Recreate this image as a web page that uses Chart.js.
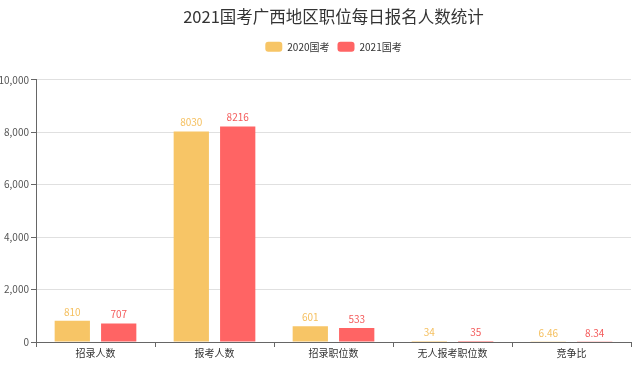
<!DOCTYPE html>
<html><head><meta charset="utf-8">
<script src="https://cdn.jsdelivr.net/npm/chart.js@4/dist/chart.umd.min.js"></script>
<style>html,body{margin:0;padding:0;background:#fff}#w{width:640px;height:368px}</style>
</head><body><div id="w"><canvas id="c" width="640" height="368"></canvas></div>
<script>
const categories = ['招录人数','报考人数','招录职位数','无人报考职位数','竞争比'];
const series2020 = [810, 8030, 601, 34, 6.46];
const series2021 = [707, 8216, 533, 35, 8.34];
const seriesNames = ['2020国考','2021国考'];
const yTicks = [0, 2000, 4000, 6000, 8000, 10000];

const FONT = '"Noto Sans CJK SC", "Noto Sans", sans-serif';
const labelPlugin = {
  id: 'vlabels',
  afterInit(chart) {
    const lg = chart.legend;
    if (lg) {
      const orig = lg.fit;
      lg.fit = function() { orig.call(this); this.height += 18; };
    }
  },
  afterDatasetsDraw(chart) {
    const ctx = chart.ctx;
    ctx.save();
    ctx.font = '10px ' + FONT;
    ctx.textAlign = 'center';
    ctx.textBaseline = 'bottom';
    chart.data.datasets.forEach((ds, i) => {
      const meta = chart.getDatasetMeta(i);
      ctx.fillStyle = ds.labelColor;
      meta.data.forEach((el, j) => {
        ctx.fillText(String(ds.data[j]), el.x, el.y - 4);
      });
    });
    ctx.restore();
  }
};

new Chart(document.getElementById('c'), {
  type: 'bar',
  data: {
    labels: categories,
    datasets: [
      {label: seriesNames[0], data: series2020, backgroundColor: '#f7c566', labelColor: '#f5c060'},
      {label: seriesNames[1], data: series2021, backgroundColor: '#ff6464', labelColor: '#f45b5b'}
    ]
  },
  options: {
    responsive: false,
    animation: false,
    devicePixelRatio: 1,
    datasets: {bar: {categoryPercentage: 0.78, barPercentage: 0.76}},
    layout: {padding: {left: 0, right: 9, top: 4, bottom: 0}},
    plugins: {
      title: {display: true, fullSize: false, text: '2021国考广西地区职位每日报名人数统计', color: '#333', font: {family: FONT, size: 16.5, weight: 'normal'}, padding: {top: 3, bottom: 7}},
      legend: {display: true, fullSize: false, labels: {boxWidth: 17, boxHeight: 10, useBorderRadius: true, borderRadius: 3, color: '#333', font: {family: FONT, size: 10}, padding: 8}},
      tooltip: {enabled: false}
    },
    scales: {
      x: {
        afterFit(ax) { ax.height = 26; },
        grid: {display: true, drawOnChartArea: false, offset: true, tickLength: 5, tickColor: '#666'},
        border: {color: '#666'},
        ticks: {color: '#333', font: {family: FONT, size: 10}, padding: 0, maxRotation: 0, autoSkip: false}
      },
      y: {
        min: 0, max: 10000,
        afterBuildTicks(ax) { ax.ticks = yTicks.map(v => ({value: v})); },
        afterFit(ax) { ax.width = 36; },
        grid: {color: '#e0e0e0', tickLength: 5, tickColor: '#666'},
        border: {color: '#666'},
        ticks: {color: '#555', font: {family: FONT, size: 10}, padding: 2, callback: v => v.toLocaleString('en-US')}
      }
    }
  },
  plugins: [labelPlugin]
});
</script></body></html>
